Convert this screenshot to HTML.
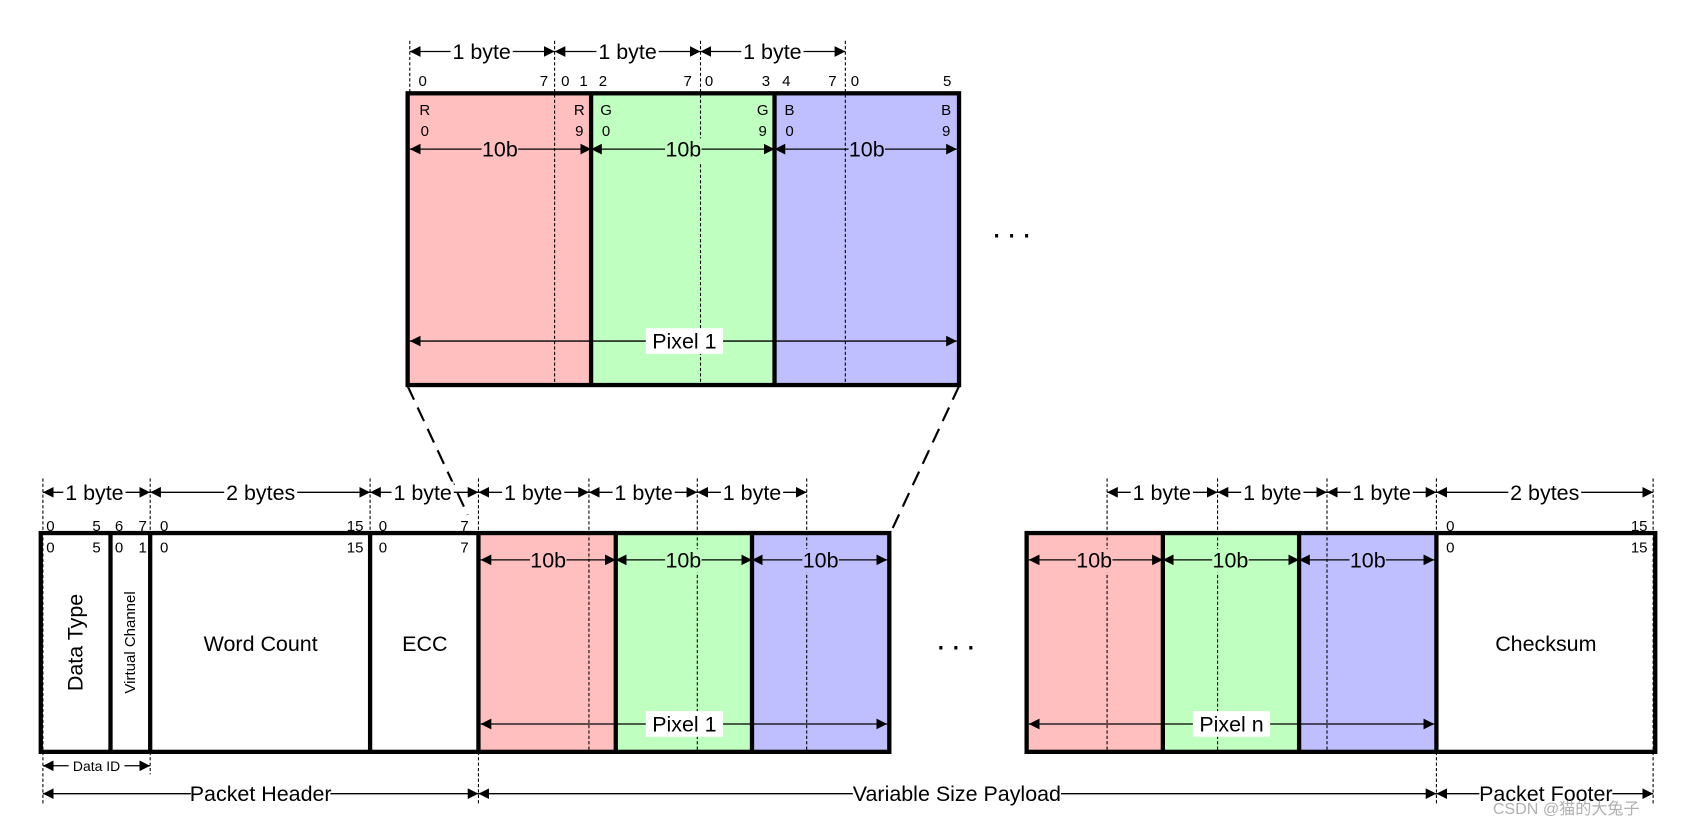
<!DOCTYPE html>
<html><head><meta charset="utf-8"><style>html,body{margin:0;padding:0;background:#fff}svg{display:block}</style></head><body>
<svg width="1681" height="828" viewBox="0 0 1567 772" preserveAspectRatio="none" xmlns="http://www.w3.org/2000/svg" font-family="Liberation Sans, Arial, sans-serif">
<defs>
<marker id="a" viewBox="0 0 10 10" refX="10" refY="5" markerWidth="10" markerHeight="10" markerUnits="userSpaceOnUse" orient="auto-start-reverse"><path d="M0,0L10,5L0,10z" fill="#000"/></marker>
</defs>
<!-- TOP -->
<rect x="380" y="87" width="171" height="272" fill="#ffbfbf"/>
<rect x="551" y="87" width="171" height="272" fill="#bfffbf"/>
<rect x="722" y="87" width="172" height="272" fill="#bfbfff"/>
<g stroke="#000" stroke-width="1" stroke-dasharray="3,2">
<line x1="382" y1="38" x2="382" y2="87"/><line x1="517" y1="38" x2="517" y2="359"/><line x1="653" y1="38" x2="653" y2="359"/><line x1="788" y1="38" x2="788" y2="359"/>
</g>
<rect x="380" y="87" width="514" height="272" fill="none" stroke="#000" stroke-width="4"/>
<line x1="551" y1="87" x2="551" y2="359" stroke="#000" stroke-width="4"/>
<line x1="722" y1="87" x2="722" y2="359" stroke="#000" stroke-width="4"/>
<g stroke="#000" stroke-width="1.2" marker-start="url(#a)" marker-end="url(#a)">
<line x1="382" y1="48" x2="517" y2="48"/><line x1="517" y1="48" x2="653" y2="48"/><line x1="653" y1="48" x2="788" y2="48"/>
<line x1="382" y1="139" x2="551" y2="139"/><line x1="551" y1="139" x2="722" y2="139"/><line x1="722" y1="139" x2="892" y2="139"/>
<line x1="382" y1="318" x2="892" y2="318"/>
</g>
<g fill="#fff">
<rect x="420" y="38" width="58" height="22"/><rect x="556" y="38" width="58" height="22"/><rect x="691" y="38" width="58" height="22"/>
</g>
<rect x="449" y="129" width="34" height="22" fill="#ffbfbf"/><rect x="620" y="129" width="34" height="22" fill="#bfffbf"/><rect x="791" y="129" width="34" height="22" fill="#bfbfff"/>
<g font-size="20" text-anchor="middle">
<text x="449" y="55">1 byte</text><text x="585" y="55">1 byte</text><text x="720" y="55">1 byte</text>
<text x="466" y="146">10b</text><text x="637" y="146">10b</text><text x="808" y="146">10b</text>
</g>
<rect x="602" y="306" width="72" height="24" fill="#fff"/>
<text x="638" y="325" font-size="20" text-anchor="middle">Pixel 1</text>
<g font-size="14" text-anchor="middle">
<text x="394" y="80">0</text><text x="507" y="80">7</text><text x="527" y="80">0</text><text x="544" y="80">1</text><text x="562" y="80">2</text><text x="641" y="80">7</text><text x="661" y="80">0</text><text x="714" y="80">3</text><text x="733" y="80">4</text><text x="776" y="80">7</text><text x="797" y="80">0</text><text x="883" y="80">5</text>
<text x="396" y="107">R</text><text x="396" y="127">0</text><text x="540" y="107">R</text><text x="540" y="127">9</text>
<text x="565" y="107">G</text><text x="565" y="127">0</text><text x="711" y="107">G</text><text x="711" y="127">9</text>
<text x="736" y="107">B</text><text x="736" y="127">0</text><text x="882" y="107">B</text><text x="882" y="127">9</text>
</g>
<text x="945" y="228" font-size="30" text-anchor="middle" letter-spacing="4">···</text>
<line x1="380" y1="360" x2="436" y2="480" stroke="#000" stroke-width="2" stroke-dasharray="14,8"/>
<line x1="894" y1="360" x2="830" y2="497" stroke="#000" stroke-width="2" stroke-dasharray="14,8"/>
<!-- BOTTOM -->
<rect x="446" y="497" width="128" height="204" fill="#ffbfbf"/>
<rect x="574" y="497" width="127" height="204" fill="#bfffbf"/>
<rect x="701" y="497" width="128" height="204" fill="#bfbfff"/>
<rect x="957" y="497" width="127" height="204" fill="#ffbfbf"/>
<rect x="1084" y="497" width="127" height="204" fill="#bfffbf"/>
<rect x="1211" y="497" width="128" height="204" fill="#bfbfff"/>
<g stroke="#000" stroke-width="1" stroke-dasharray="3,2">
<line x1="40" y1="446" x2="40" y2="750"/><line x1="140" y1="446" x2="140" y2="722"/><line x1="345" y1="446" x2="345" y2="497"/><line x1="446" y1="446" x2="446" y2="750"/>
<line x1="549" y1="446" x2="549" y2="701"/><line x1="650" y1="446" x2="650" y2="701"/><line x1="752" y1="446" x2="752" y2="701"/>
<line x1="1032" y1="446" x2="1032" y2="701"/><line x1="1135" y1="446" x2="1135" y2="701"/><line x1="1237" y1="446" x2="1237" y2="701"/><line x1="1339" y1="446" x2="1339" y2="750"/><line x1="1541" y1="446" x2="1541" y2="750"/>
</g>
<g fill="none" stroke="#000" stroke-width="4">
<rect x="38" y="497" width="791" height="204"/>
<rect x="957" y="497" width="586" height="204"/>
<line x1="103" y1="497" x2="103" y2="701"/><line x1="140" y1="497" x2="140" y2="701"/><line x1="345" y1="497" x2="345" y2="701"/><line x1="446" y1="497" x2="446" y2="701"/><line x1="574" y1="497" x2="574" y2="701"/><line x1="701" y1="497" x2="701" y2="701"/>
<line x1="1084" y1="497" x2="1084" y2="701"/><line x1="1211" y1="497" x2="1211" y2="701"/><line x1="1339" y1="497" x2="1339" y2="701"/>
</g>
<g stroke="#000" stroke-width="1.2" marker-start="url(#a)" marker-end="url(#a)">
<line x1="40" y1="459" x2="140" y2="459"/><line x1="140" y1="459" x2="345" y2="459"/><line x1="345" y1="459" x2="446" y2="459"/><line x1="446" y1="459" x2="549" y2="459"/><line x1="549" y1="459" x2="650" y2="459"/><line x1="650" y1="459" x2="752" y2="459"/>
<line x1="1032" y1="459" x2="1135" y2="459"/><line x1="1135" y1="459" x2="1237" y2="459"/><line x1="1237" y1="459" x2="1339" y2="459"/><line x1="1339" y1="459" x2="1541" y2="459"/>
<line x1="448" y1="522" x2="574" y2="522"/><line x1="574" y1="522" x2="701" y2="522"/><line x1="701" y1="522" x2="827" y2="522"/>
<line x1="959" y1="522" x2="1084" y2="522"/><line x1="1084" y1="522" x2="1211" y2="522"/><line x1="1211" y1="522" x2="1337" y2="522"/>
<line x1="448" y1="675" x2="827" y2="675"/><line x1="959" y1="675" x2="1337" y2="675"/>
<line x1="40" y1="714" x2="140" y2="714"/>
<line x1="40" y1="740" x2="446" y2="740"/><line x1="446" y1="740" x2="1339" y2="740"/><line x1="1339" y1="740" x2="1541" y2="740"/>
</g>
<g fill="#fff">
<rect x="59" y="449" width="58" height="22"/><rect x="209" y="449" width="68" height="22"/><rect x="365" y="449" width="58" height="22"/>
<rect x="468" y="449" width="58" height="22"/><rect x="571" y="449" width="58" height="22"/><rect x="672" y="449" width="58" height="22"/>
<rect x="1054" y="449" width="58" height="22"/><rect x="1157" y="449" width="58" height="22"/><rect x="1259" y="449" width="58" height="22"/><rect x="1406" y="449" width="68" height="22"/>
<rect x="178" y="729" width="130" height="22"/><rect x="795" y="729" width="194" height="22"/><rect x="1379" y="729" width="124" height="22"/>
<rect x="64" y="707" width="52" height="15"/>
</g>
<rect x="494" y="512" width="34" height="22" fill="#ffbfbf"/><rect x="620" y="512" width="34" height="22" fill="#bfffbf"/><rect x="748" y="512" width="34" height="22" fill="#bfbfff"/>
<rect x="1003" y="512" width="34" height="22" fill="#ffbfbf"/><rect x="1130" y="512" width="34" height="22" fill="#bfffbf"/><rect x="1258" y="512" width="34" height="22" fill="#bfbfff"/>
<g font-size="20" text-anchor="middle">
<text x="88" y="466">1 byte</text><text x="243" y="466">2 bytes</text><text x="394" y="466">1 byte</text>
<text x="497" y="466">1 byte</text><text x="600" y="466">1 byte</text><text x="701" y="466">1 byte</text>
<text x="1083" y="466">1 byte</text><text x="1186" y="466">1 byte</text><text x="1288" y="466">1 byte</text><text x="1440" y="466">2 bytes</text>
<text x="511" y="529">10b</text><text x="637" y="529">10b</text><text x="765" y="529">10b</text>
<text x="1020" y="529">10b</text><text x="1147" y="529">10b</text><text x="1275" y="529">10b</text>
<text x="243" y="747">Packet Header</text><text x="892" y="747">Variable Size Payload</text><text x="1441" y="747">Packet Footer</text>
</g>
<rect x="602" y="663" width="72" height="24" fill="#fff"/>
<text x="638" y="682" font-size="20" text-anchor="middle">Pixel 1</text>
<rect x="1112" y="663" width="72" height="24" fill="#fff"/>
<text x="1148" y="682" font-size="20" text-anchor="middle">Pixel n</text>
<text x="90" y="719" font-size="13" text-anchor="middle">Data ID</text>
<g font-size="14" text-anchor="middle">
<text x="47" y="495">0</text><text x="90" y="495">5</text><text x="111" y="495">6</text><text x="133" y="495">7</text><text x="153" y="495">0</text><text x="331" y="495">15</text><text x="357" y="495">0</text><text x="433" y="495">7</text>
<text x="47" y="515">0</text><text x="90" y="515">5</text><text x="111" y="515">0</text><text x="133" y="515">1</text><text x="153" y="515">0</text><text x="331" y="515">15</text><text x="357" y="515">0</text><text x="433" y="515">7</text>
<text x="1352" y="495">0</text><text x="1528" y="495">15</text><text x="1352" y="515">0</text><text x="1528" y="515">15</text>
</g>
<g font-size="20" text-anchor="middle">
<text x="243" y="607">Word Count</text><text x="396" y="607">ECC</text><text x="1441" y="607">Checksum</text>
<text transform="translate(77,599) rotate(-90)" text-anchor="middle">Data Type</text>
<text transform="translate(126,599) rotate(-90)" font-size="14" text-anchor="middle">Virtual Channel</text>
</g>
<text x="893" y="612" font-size="30" text-anchor="middle" letter-spacing="4">···</text>
<text x="1460" y="759" font-size="15" fill="#b0b0b0" text-anchor="middle" font-family="Liberation Sans, Noto Sans CJK SC, sans-serif">CSDN @猫的大兔子</text>
</svg>
</body></html>
